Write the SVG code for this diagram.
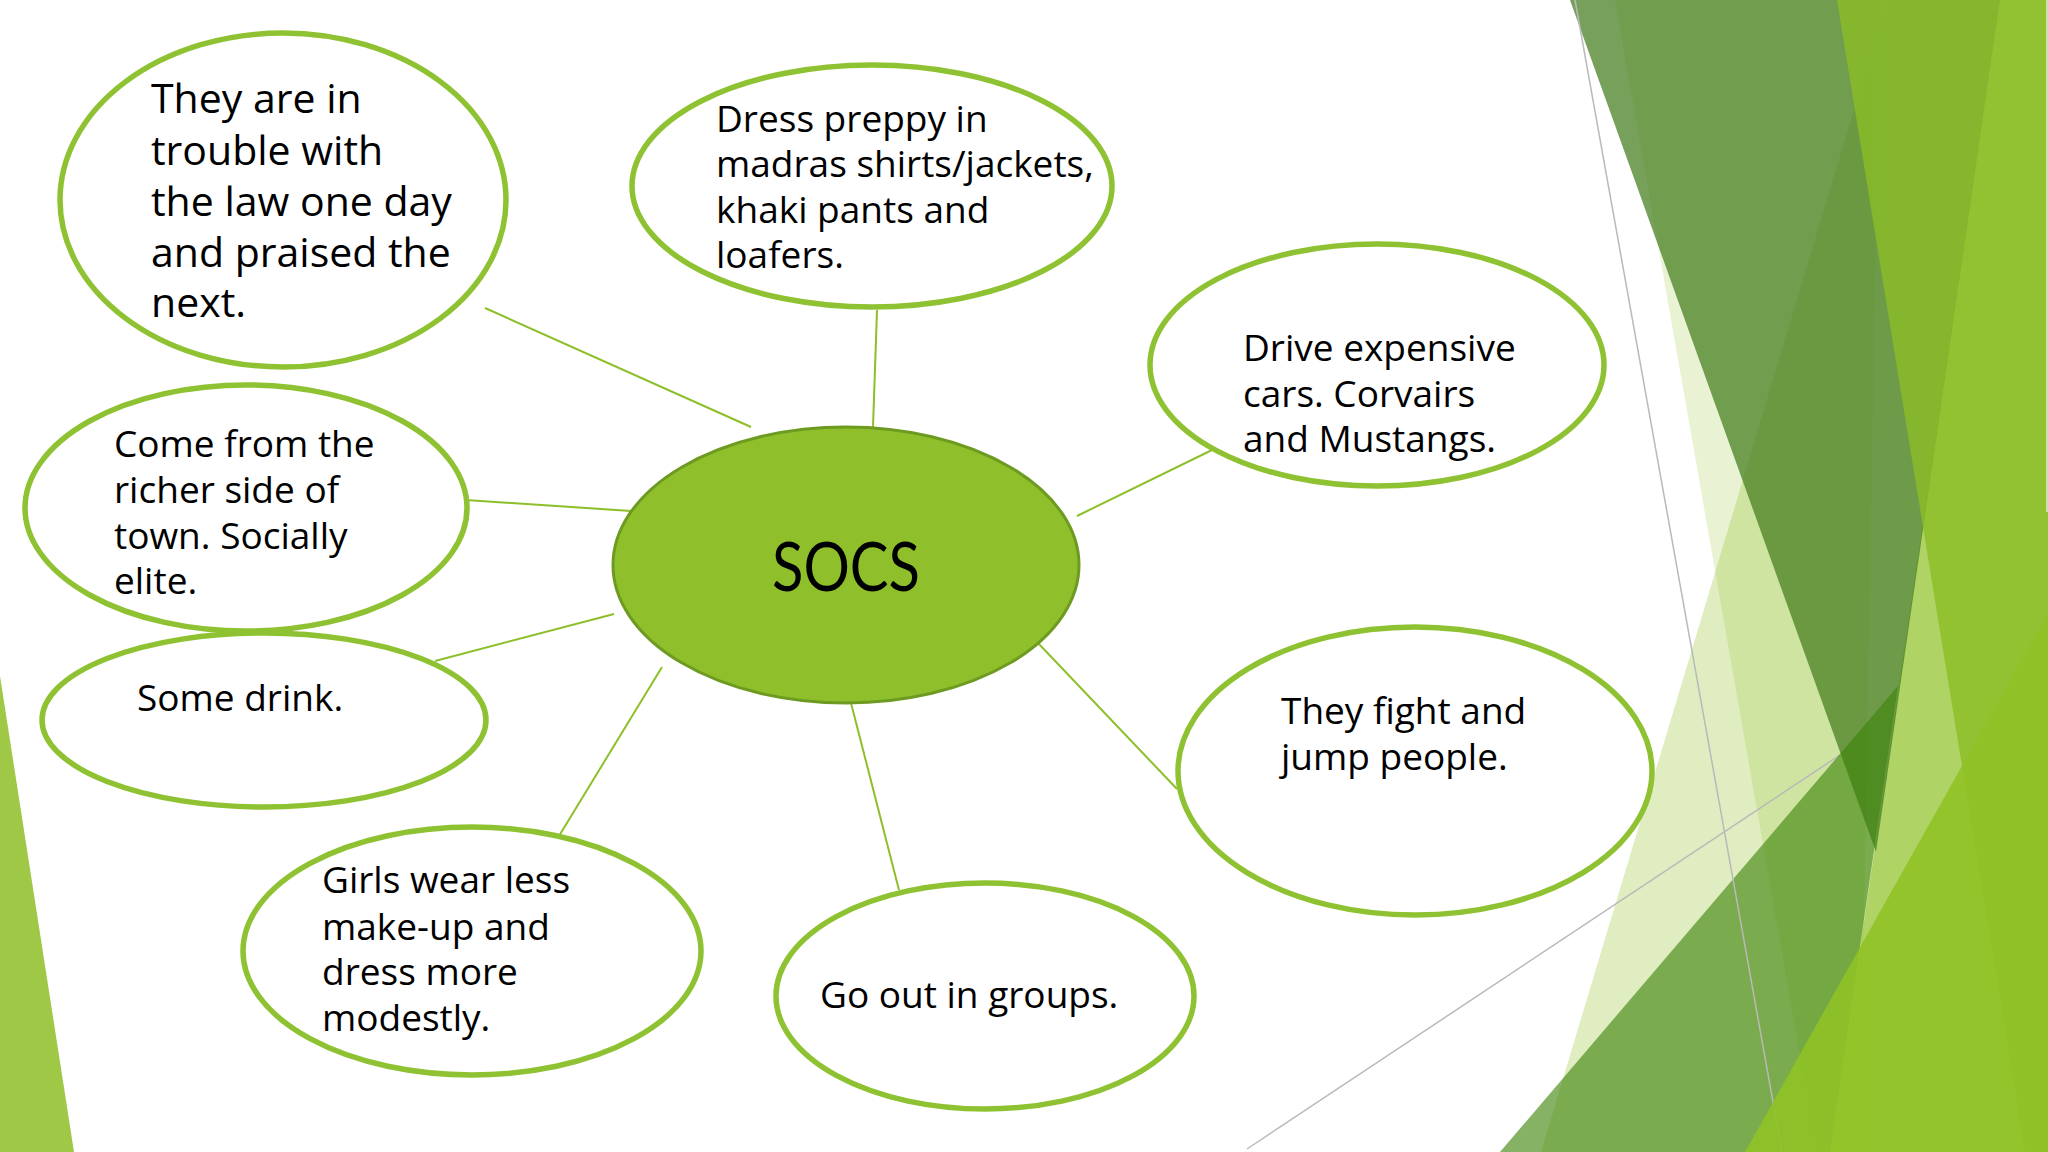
<svg xmlns="http://www.w3.org/2000/svg" width="2048" height="1152" viewBox="0 0 2048 1152">
<style>
.deco{stroke:none}
.gl{stroke:#b9b9b9;stroke-width:1.5;fill:none}
.con{stroke:#8dbf2a;stroke-width:2;fill:none}
.node{fill:#ffffff;stroke:#8fc232;stroke-width:5.5}
.hub{fill:#8fc02b;stroke:#6d9b21;stroke-width:3}
.t{font-family:"Open Sans","Noto Sans","DejaVu Sans",sans-serif;fill:#000000}
.t37{font-size:37px}
.t41{font-size:41px}
.hubt{font-family:Lato,"Open Sans",sans-serif;font-size:68px;fill:#000000}
</style>
<rect x="0" y="0" width="2048" height="1152" fill="#ffffff"/>
<g id="decoration">
<polygon class="deco" points="0,676 74,1152 0,1152" fill="#9fc847"/>
<polygon class="deco" points="1887,0 2048,0 2048,1152 1541,1152" fill="#90c226" fill-opacity="0.29"/>
<polygon class="deco" points="1615,0 1880,0 1860,1152 1817,1152" fill="#90c226" fill-opacity="0.2"/>
<polygon class="deco" points="2000,0 2048,0 2048,1152 1830,1152" fill="#90c226" fill-opacity="0.6"/>
<polygon class="deco" points="1570,0 2000,0 1876,852" fill="#447d1e" fill-opacity="0.73"/>
<line class="gl" x1="1247" y1="1149" x2="1840" y2="755" stroke="#c9c9c9"/>
<polygon class="deco" points="1898,686 1500,1152 1830,1152" fill="#3c8208" fill-opacity="0.62"/>
<line class="gl" x1="1575" y1="0" x2="1782" y2="1152"/>
<polygon class="deco" points="1837,0 2048,0 2048,1152 2025,1152" fill="#8bbd26" fill-opacity="0.8"/>
<polygon class="deco" points="2048,613 1745,1152 2048,1152" fill="#90c226" fill-opacity="0.9"/>
<line x1="2047" y1="0" x2="2047" y2="512" stroke="#dfe8d4" stroke-width="1.5"/>
</g>
<g id="connectors">
<line class="con" x1="485" y1="308" x2="751" y2="427"/>
<line class="con" x1="877" y1="310" x2="873" y2="427"/>
<line class="con" x1="1212" y1="450" x2="1077" y2="516"/>
<line class="con" x1="466" y1="500" x2="631" y2="511"/>
<line class="con" x1="435" y1="661" x2="614" y2="614"/>
<line class="con" x1="559" y1="836" x2="662" y2="667"/>
<line class="con" x1="899" y1="890" x2="851" y2="703"/>
<line class="con" x1="1177" y1="789" x2="1038" y2="643"/>
</g>
<g id="hub">
<ellipse class="hub" cx="846" cy="565" rx="233" ry="138"/>
<text class="hubt" x="772" y="591" textLength="148" lengthAdjust="spacingAndGlyphs">SOCS</text>
</g>
<g id="node-law">
<ellipse class="node" cx="283" cy="200" rx="223" ry="167"/>
<text class="t t41" x="151"><tspan x="151" y="113">They are in</tspan><tspan x="151" y="165">trouble with</tspan><tspan x="151" y="216">the law one day</tspan><tspan x="151" y="267">and praised the</tspan><tspan x="151" y="317">next.</tspan></text>
</g>
<g id="node-dress">
<ellipse class="node" cx="872" cy="186" rx="240" ry="121"/>
<text class="t t37"><tspan x="716" y="132">Dress preppy in</tspan><tspan x="716" y="177">madras shirts/jackets,</tspan><tspan x="716" y="223">khaki pants and</tspan><tspan x="716" y="268">loafers.</tspan></text>
</g>
<g id="node-cars">
<ellipse class="node" cx="1377" cy="365" rx="227" ry="121"/>
<text class="t t37"><tspan x="1243" y="361">Drive expensive</tspan><tspan x="1243" y="407">cars. Corvairs</tspan><tspan x="1243" y="452">and Mustangs.</tspan></text>
</g>
<g id="node-rich">
<ellipse class="node" cx="246" cy="508" rx="221" ry="123"/>
<text class="t t37"><tspan x="114" y="457">Come from the</tspan><tspan x="114" y="503">richer side of</tspan><tspan x="114" y="549">town. Socially</tspan><tspan x="114" y="594">elite.</tspan></text>
</g>
<g id="node-drink">
<ellipse class="node" cx="264" cy="720" rx="222" ry="87"/>
<text class="t t37" x="137" y="711">Some drink.</text>
</g>
<g id="node-girls">
<ellipse class="node" cx="472" cy="951" rx="229" ry="124"/>
<text class="t t37"><tspan x="322" y="893">Girls wear less</tspan><tspan x="322" y="940">make-up and</tspan><tspan x="322" y="985">dress more</tspan><tspan x="322" y="1031">modestly.</tspan></text>
</g>
<g id="node-groups">
<ellipse class="node" cx="985" cy="996" rx="209" ry="113"/>
<text class="t t37" x="820" y="1008">Go out in groups.</text>
</g>
<g id="node-fight">
<ellipse class="node" cx="1415" cy="771" rx="237" ry="144"/>
<text class="t t37"><tspan x="1281" y="724">They fight and</tspan><tspan x="1281" y="770">jump people.</tspan></text>
</g>
</svg>
